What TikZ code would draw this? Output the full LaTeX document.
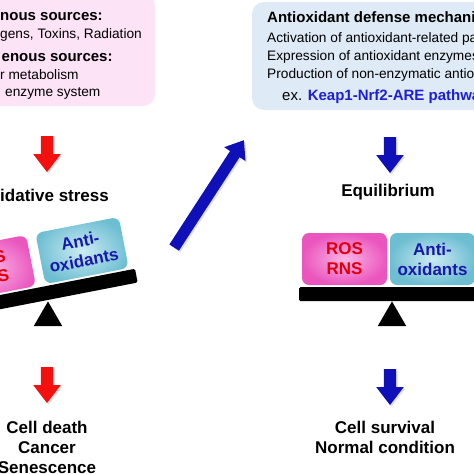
\documentclass[tikz,border=0pt]{standalone}
\usepackage{fontspec}
\setmainfont{Liberation Sans}
\usetikzlibrary{shapes.arrows,shapes.geometric,shadows}
\definecolor{srcpink}{RGB}{252,227,246}
\definecolor{defblue}{RGB}{222,234,245}
\definecolor{rospink}{RGB}{234,86,190}
\definecolor{roslight}{RGB}{250,180,230}
\definecolor{anticyan}{RGB}{110,190,210}
\definecolor{antilight}{RGB}{204,235,243}
\definecolor{rostext}{RGB}{225,0,10}
\definecolor{antitext}{RGB}{24,24,170}
\definecolor{keaptext}{RGB}{30,30,215}
\definecolor{arrowred}{RGB}{245,16,16}
\definecolor{arrowblue}{RGB}{16,16,185}
\tikzset{
    infonode/.style = {
        anchor=base west,
        inner sep=0pt,
        font=\fontsize{13.7}{16}\selectfont
    },
    infohead/.style = {
        infonode,
        font=\fontsize{15}{18}\selectfont\bfseries
    },
    topbox/.style = {
        rounded corners=12pt
    },
    scalebox/.style = {
        rectangle,
        rounded corners=7pt,
        minimum width=85pt,
        minimum height=52pt,
        align=center,
        inner sep=0pt,
        font=\fontsize{17}{20}\selectfont\bfseries
    },
    rosnode/.style = {
        scalebox,
        inner color=roslight,
        outer color=rospink,
        text=rostext
    },
    antinode/.style = {
        scalebox,
        inner color=antilight,
        outer color=anticyan,
        text=antitext
    },
    beamnode/.style = {
        rectangle,
        fill=black,
        minimum width=182pt,
        minimum height=14pt,
        inner sep=0pt,
        rounded corners=1.5pt
    },
    pivotnode/.style = {
        regular polygon,
        regular polygon sides=3,
        fill=black,
        minimum size=33pt,
        inner sep=0pt,
        anchor=corner 1
    },
    fatarrow/.style = {
        single arrow,
        minimum height=36pt,
        inner sep=6pt,
        single arrow head extend=7.5pt,
        single arrow tip angle=75,
        drop shadow={opacity=0.25, shadow xshift=1.5pt, shadow yshift=-1.5pt}
    },
    redarrow/.style = {
        fatarrow,
        shape border rotate=270,
        fill=arrowred
    },
    bluearrow/.style = {
        fatarrow,
        shape border rotate=270,
        fill=arrowblue
    },
    labelnode/.style = {
        align=center,
        inner sep=0pt,
        font=\fontsize{17}{20}\selectfont\bfseries
    }
}
\begin{document}
\begin{tikzpicture}[x=1pt, y=-1pt]
    \useasboundingbox (0,0) rectangle (474,474);
    \clip (0,0) rectangle (474,474);

    % sources (left) and defense (right)
    \fill [srcpink, topbox] (-20,-6) rectangle (155,106);
    \fill [defblue, topbox] (252,2) rectangle (500,110);

    \node [infohead] (exo) at (0,20) {nous sources:};
    \node [infonode] (exolist) at (0,38.5) {gens, Toxins, Radiation};
    \node [infohead] (endo) at (1.5,61) {enous sources:};
    \node [infonode] (endolist1) at (0,79.5) {r metabolism};
    \node [infonode] (endolist2) at (5,96.5) {enzyme system};

    \node [infohead] (defense) at (267,22.5) {Antioxidant defense mechanisms};
    \node [infonode] (def1) at (267,42) {Activation of antioxidant-related pathways};
    \node [infonode] (def2) at (267,60) {Expression of antioxidant enzymes};
    \node [infonode] (def3) at (267,78) {Production of non-enzymatic antioxidants};
    \node [infonode, font=\fontsize{15}{18}\selectfont] (keap) at (282,100)
        {ex. \textbf{\color{keaptext}Keap1-Nrf2-ARE pathway}};

    % arrows
    \node [redarrow] (arr-l1) at (47,150) {};
    \node [bluearrow] (arr-r1) at (390,151) {};
    \node [fatarrow, fill=arrowblue, minimum height=128pt, inner sep=5.5pt,
        single arrow head extend=7pt, rotate=57] (arr-up) at (207,197) {};

    \node [labelnode, anchor=base west] (stress) at (0,201) {idative stress};
    \node [labelnode] (equil) at (388,192) {Equilibrium};

    % tilted scale
    \begin{scope}[shift={(47,293)}, rotate=11, transform shape]
        \node [beamnode] (beam-l) at (0,0) {};
        \node [rosnode] (ros-l) at (-52,-35) {ROS\\RNS};
        \node [antinode] (anti-l) at (42.5,-35) {Anti-\\oxidants};
    \end{scope}
    \node [pivotnode] (pivot-l) at (48,301) {};

    % balanced scale
    \begin{scope}[shift={(390,294)}]
        \node [beamnode] (beam-r) at (0,0) {};
        \node [rosnode] (ros-r) at (-45.5,-35) {ROS\\RNS};
        \node [antinode] (anti-r) at (42.5,-35) {Anti-\\oxidants};
    \end{scope}
    \node [pivotnode] (pivot-r) at (392,301) {};

    \node [redarrow] (arr-l2) at (47,381) {};
    \node [bluearrow] (arr-r2) at (390,383) {};

    \node [labelnode, anchor=north] (death) at (47,421) {Cell death\\Cancer\\Senescence};
    \node [labelnode, anchor=north] (survival) at (385,421) {Cell survival\\Normal condition};
\end{tikzpicture}
\end{document}
